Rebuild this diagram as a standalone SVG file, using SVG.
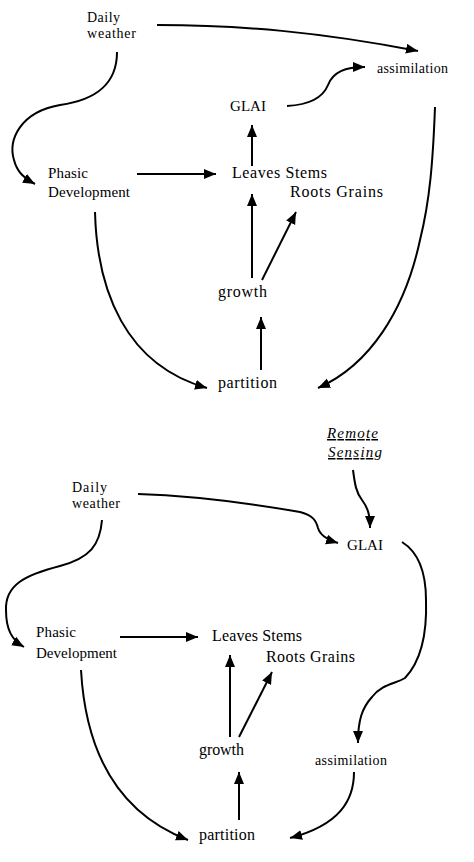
<svg xmlns="http://www.w3.org/2000/svg" width="474" height="862" viewBox="0 0 474 862">
<defs>
<style>
text{font-family:"Liberation Serif","Times New Roman",serif;fill:#000}
.s{font-size:14px}
.m{font-size:15px}
.l{font-size:16px}
.rs{font-size:15px;font-style:italic;text-decoration:underline}
.c{fill:none;stroke:#000;stroke-width:2;marker-end:url(#ah)}
</style>
<marker id="ah" markerUnits="userSpaceOnUse" markerWidth="14" markerHeight="12" refX="12" refY="5" orient="auto"><path d="M0,0 L12,5 L0,10 z" fill="#000"/></marker>
</defs>
<rect width="474" height="862" fill="#fff"/>
<g id="connectors">
<path class="c" d="M157,25 C240,25 320,32 418,51"/>
<path class="c" d="M117,52 C117,85 95,100 60,105 C20,112 8,140 14,160 C17,172 24,178 35,184"/>
<path class="c" d="M137,174 L216,174"/>
<path class="c" d="M252,166 L252,125"/>
<path class="c" d="M287,106 C305,105 322,100 328,85 C333,72 345,67 365,67"/>
<path class="c" d="M435,107 C433,160 430,200 420,240 C405,310 370,365 318,388"/>
<path class="c" d="M95,212 C97,290 125,365 207,388"/>
<path class="c" d="M252,278 L252,194"/>
<path class="c" d="M262,280 L296,212"/>
<path class="c" d="M261,370 L261,317"/>
<path class="c" d="M353,470 C355,485 356,492 362,500 C368,508 370,515 370,528"/>
<path class="c" d="M138,494 C200,496 260,505 300,512 C312,515 316,520 318,528 C320,535 328,540 338,543"/>
<path class="c" d="M102,520 C100,545 90,558 60,566 C25,575 5,585 6,610 C6,630 12,640 24,647"/>
<path class="c" d="M120,637 L198,637"/>
<path class="c" d="M402,542 C418,552 426,570 426,600 C427,630 422,660 405,678 C395,684 382,684 372,697 C362,708 358,720 358,743"/>
<path class="c" d="M81,670 C85,740 110,810 188,840"/>
<path class="c" d="M230,737 L230,655"/>
<path class="c" d="M239,737 L272,672"/>
<path class="c" d="M239,820 L239,772"/>
<path class="c" d="M354,772 C354,800 340,825 290,838"/>
</g>
<g id="top-daily-weather"><text class="s" x="87" y="22" textLength="33">Daily</text><text class="s" x="87" y="38" textLength="49">weather</text></g>
<g id="top-assimilation"><text class="s" x="377" y="73" textLength="71">assimilation</text></g>
<g id="top-glai"><text class="m" x="230" y="111" textLength="36">GLAI</text></g>
<g id="top-phasic"><text class="m" x="48" y="178" textLength="40">Phasic</text><text class="m" x="48" y="197" textLength="82">Development</text></g>
<g id="top-leaves-stems"><text class="l" x="232" y="178" textLength="95">Leaves Stems</text></g>
<g id="top-roots-grains"><text class="l" x="290" y="197" textLength="93">Roots  Grains</text></g>
<g id="top-growth"><text class="l" x="218" y="297" textLength="49">growth</text></g>
<g id="top-partition"><text class="l" x="218" y="388" textLength="59">partition</text></g>
<g id="bot-remote-sensing"><text class="rs" x="327" y="438" textLength="51">Remote</text><text class="rs" x="328" y="457" textLength="54">Sensing</text></g>
<g id="bot-daily-weather"><text class="s" x="72" y="492" textLength="35">Daily</text><text class="s" x="72" y="508" textLength="48">weather</text></g>
<g id="bot-glai"><text class="m" x="347" y="550" textLength="36">GLAI</text></g>
<g id="bot-phasic"><text class="m" x="36" y="637" textLength="40">Phasic</text><text class="m" x="36" y="658" textLength="81">Development</text></g>
<g id="bot-leaves-stems"><text class="l" x="212" y="641" textLength="90">Leaves Stems</text></g>
<g id="bot-roots-grains"><text class="l" x="266" y="662" textLength="89">Roots  Grains</text></g>
<g id="bot-growth"><text class="l" x="199" y="755" textLength="45">growth</text></g>
<g id="bot-assimilation"><text class="s" x="315" y="765" textLength="72">assimilation</text></g>
<g id="bot-partition"><text class="l" x="199" y="840" textLength="56">partition</text></g>
</svg>
